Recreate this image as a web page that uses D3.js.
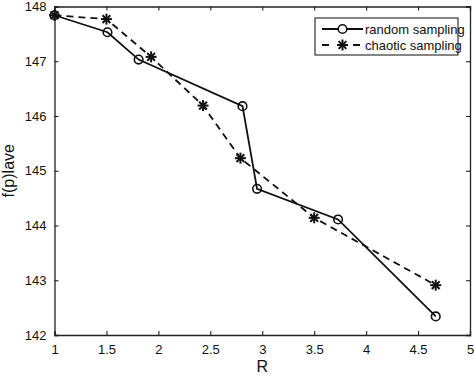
<!DOCTYPE html>
<html><head><meta charset="utf-8">
<script src="https://cdnjs.cloudflare.com/ajax/libs/d3/7.8.5/d3.min.js"></script>
<style>body{margin:0;background:#fff;}svg{display:block;font-family:"Liberation Sans",Arial,sans-serif;}</style>
</head><body>
<script>
const xTicks = [1, 1.5, 2, 2.5, 3, 3.5, 4, 4.5, 5];
const yTicks = [142, 143, 144, 145, 146, 147, 148];
const randomR = [1, 1.51, 1.81, 2.81, 2.95, 3.73, 4.67];
const randomF = [147.84, 147.53, 147.03, 146.18, 144.67, 144.11, 142.34];
const chaoticR = [1, 1.5, 1.93, 2.43, 2.79, 3.5, 4.67];
const chaoticF = [147.84, 147.77, 147.08, 146.19, 145.23, 144.14, 142.91];
const seriesNames = ["random sampling", "chaotic sampling"];

const W = 474, H = 380;
const L = 54.5, R = 470, T = 6.5, B = 335;
const svg = d3.select("body").append("svg").attr("width", W).attr("height", H);
const x = d3.scaleLinear().domain([1, 5]).range([L, R]);
const y = d3.scaleLinear().domain([142, 148]).range([B, T]);

const tickLen = 4;
const gx = svg.append("g").attr("transform", `translate(0,${B})`)
  .call(d3.axisBottom(x).tickValues(xTicks).tickSize(-tickLen).tickPadding(10).tickFormat(d3.format("")));
const gxt = svg.append("g").attr("transform", `translate(0,${T})`)
  .call(d3.axisTop(x).tickValues(xTicks).tickSize(-tickLen).tickFormat(""));
const gy = svg.append("g").attr("transform", `translate(${L},0)`)
  .call(d3.axisLeft(y).tickValues(yTicks).tickSize(-tickLen).tickPadding(8).tickFormat(d3.format("")));
const gyr = svg.append("g").attr("transform", `translate(${R},0)`)
  .call(d3.axisRight(y).tickValues(yTicks).tickSize(-tickLen).tickFormat(""));
[gx, gxt, gy, gyr].forEach(g => {
  g.selectAll("path.domain").attr("stroke", "#222").attr("stroke-width", 1.3);
  g.selectAll(".tick line").attr("stroke", "#222").attr("stroke-width", 1.1);
  g.selectAll(".tick text").attr("fill", "#111").style("font-size", "13px");
});
gx.selectAll(".tick text").attr("dy", "0.71em");

svg.append("text").attr("x", x(3)).attr("y", 372).attr("text-anchor", "middle")
  .style("font-size", "16px").attr("fill", "#111").text("R");
svg.append("text").attr("transform", `translate(14,${(T + B) / 2}) rotate(-90)`)
  .attr("text-anchor", "middle").style("font-size", "16px").attr("fill", "#111").text("f(p)lave");

const randomData = randomR.map((r, i) => [r, randomF[i]]);
const chaoticData = chaoticR.map((r, i) => [r, chaoticF[i]]);
const line = d3.line().x(d => x(d[0])).y(d => y(d[1]));

svg.append("path").datum(chaoticData).attr("d", line).attr("fill", "none")
  .attr("stroke", "#111").attr("stroke-width", 1.8).attr("stroke-dasharray", "7,5");
svg.append("path").datum(randomData).attr("d", line).attr("fill", "none")
  .attr("stroke", "#111").attr("stroke-width", 1.8);

function star(g, cx, cy, r) {
  for (let k = 0; k < 4; k++) {
    const a = k * Math.PI / 4;
    g.append("line").attr("x1", cx - r * Math.cos(a)).attr("y1", cy - r * Math.sin(a))
      .attr("x2", cx + r * Math.cos(a)).attr("y2", cy + r * Math.sin(a))
      .attr("stroke", "#111").attr("stroke-width", 2);
  }
}
const sg = svg.append("g");
chaoticData.forEach(d => star(sg, x(d[0]), y(d[1]), 5.5));
svg.append("g").selectAll("circle").data(randomData).join("circle")
  .attr("cx", d => x(d[0])).attr("cy", d => y(d[1])).attr("r", 4.3)
  .attr("fill", "none").attr("stroke", "#111").attr("stroke-width", 1.6);

const lg = svg.append("g");
lg.append("rect").attr("x", 315).attr("y", 18).attr("width", 143).attr("height", 37)
  .attr("fill", "#fff").attr("stroke", "#222").attr("stroke-width", 1.1);
lg.append("line").attr("x1", 322).attr("x2", 363).attr("y1", 29).attr("y2", 29)
  .attr("stroke", "#111").attr("stroke-width", 1.8);
lg.append("circle").attr("cx", 342.5).attr("cy", 29).attr("r", 4.3)
  .attr("fill", "#fff").attr("stroke", "#111").attr("stroke-width", 1.6);
lg.append("line").attr("x1", 322).attr("x2", 363).attr("y1", 45).attr("y2", 45)
  .attr("stroke", "#111").attr("stroke-width", 1.8).attr("stroke-dasharray", "7,8.5");
star(lg, 342.5, 45, 5.5);
lg.append("text").attr("x", 365).attr("y", 29).attr("dy", "0.35em").style("font-size", "13px").attr("fill", "#111").text(seriesNames[0]);
lg.append("text").attr("x", 365).attr("y", 45).attr("dy", "0.35em").style("font-size", "13px").attr("fill", "#111").text(seriesNames[1]);
</script>
</body></html>
